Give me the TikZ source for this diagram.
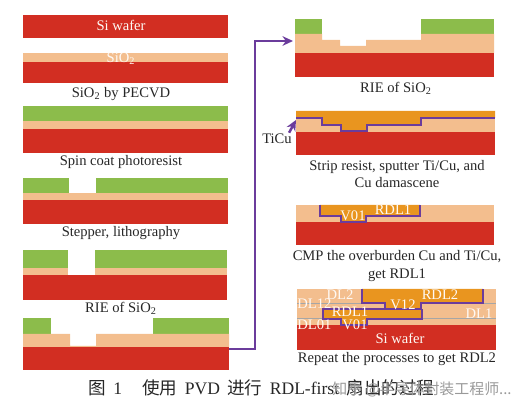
\documentclass[tikz,border=0pt]{standalone}
\usepackage{fontspec}
\setmainfont{Liberation Serif}
\newfontfamily\cjk{Noto Sans CJK SC}
\usetikzlibrary{arrows.meta,positioning}
\definecolor{wafer}{HTML}{D22E22}
\definecolor{oxide}{HTML}{F3BE8E}
\definecolor{resist}{HTML}{8CBC4B}
\definecolor{copper}{HTML}{E9951F}
\definecolor{liner}{HTML}{6B3C9C}

\begin{document}
\begin{tikzpicture}[x=0.02cm,y=-0.02cm]

		\tikzset{font=\fontsize{8.3}{10}\selectfont}
		\tikzset{line/.style={draw=liner,line width=1.4pt}}
		\tikzset{arrow/.style={line,-{Stealth[length=6pt,width=5.5pt]}}}
		\tikzset{caption/.style={text=black!85,inner sep=0pt}}
		\tikzset{tag/.style={text=white!90!oxide,inner sep=0pt}}

		\useasboundingbox (0,0) rectangle (525,412);

		% Left column.
		\fill[wafer] (23,15) rectangle (228,38);
		\node[tag] (si1) at (121,25) {Si wafer};

		\fill[oxide] (23,53) rectangle (228,62);
		\fill[wafer] (23,62) rectangle (228,83);
		\node[tag] (sio1) at (121,59) {SiO\textsubscript{2}};
		\node[caption] (cap2) at (121,94) {SiO\textsubscript{2} by PECVD};

		\fill[resist] (23,106) rectangle (228,121);
		\fill[oxide] (23,121) rectangle (228,129);
		\fill[wafer] (23,129) rectangle (228,153);
		\node[caption] (cap3) at (121,162) {Spin coat photoresist};

		\fill[resist] (23,178) rectangle (69,193);
		\fill[resist] (96,178) rectangle (228,193);
		\fill[oxide] (23,193) rectangle (228,200);
		\fill[wafer] (23,200) rectangle (228,224);
		\node[caption] (cap4) at (121,233) {Stepper, lithography};

		\fill[resist] (23,250) rectangle (68,268);
		\fill[resist] (95,250) rectangle (227,268);
		\fill[oxide] (23,268) rectangle (68,275);
		\fill[oxide] (95,268) rectangle (227,275);
		\fill[wafer] (23,275) rectangle (227,300);
		\node[caption] (cap5) at (121,308) {RIE of SiO\textsubscript{2}};

		\fill[resist] (23,318) rectangle (51,334);
		\fill[resist] (153,318) rectangle (229,334);
		\fill[oxide] (23,334) -- (70,334) -- (70,346) -- (96,346) -- (96,334) -- (229,334) -- (229,347) -- (23,347) -- cycle;
		\fill[wafer] (23,347) rectangle (229,370);

		% Right column.
		\fill[resist] (295,19) rectangle (322,34);
		\fill[resist] (421,19) rectangle (494,34);
		\fill[oxide] (295,34) -- (322,34) -- (322,40) -- (340,40) -- (340,46) -- (366,46) -- (366,40) -- (421,40) -- (421,34) -- (494,34) -- (494,53) -- (295,53) -- cycle;
		\fill[wafer] (295,53) rectangle (494,77);
		\node[caption] (cap7) at (396,88) {RIE of SiO\textsubscript{2}};

		\fill[oxide] (296,118) rectangle (495,132);
		\fill[copper] (296,111) -- (495,111) -- (495,118) -- (421,118) -- (421,125) -- (367,125) -- (367,131) -- (341,131) -- (341,125) -- (322,125) -- (322,118) -- (296,118) -- cycle;
		\fill[wafer] (296,132) rectangle (495,155);
		\draw[line] (296,118) -- (322,118) -- (322,125) -- (341,125) -- (341,131) -- (367,131) -- (367,125) -- (421,125) -- (421,118) -- (495,118);
		\node[caption] (ticu) at (277,139) {TiCu};
		\coordinate (ticuend) at (296,120);
		\draw[arrow] (ticu.north east) ++(-3,-1) -- (ticuend);
		\node[caption,align=center] (cap8) at (397,174) {Strip resist, sputter Ti/Cu, and\\Cu damascene};

		\fill[oxide] (296,205) rectangle (494,222);
		\fill[copper] (320,205) -- (320,216) -- (341,216) -- (341,222) -- (366,222) -- (366,216) -- (420,216) -- (420,205) -- cycle;
		\fill[wafer] (296,222) rectangle (494,245);
		\draw[line] (320,205) -- (320,216) -- (341,216) -- (341,222) -- (366,222) -- (366,216) -- (420,216) -- (420,205);
		\node[tag] (v01a) at (353,216) {V01};
		\node[tag] (rdl1a) at (393,210) {RDL1};
		\node[caption,align=center] (cap9) at (397,266) {CMP the overburden Cu and Ti/Cu,\\get RDL1};

		\fill[oxide] (297,289) rectangle (496,325);
		\draw[black!35,line width=0.5pt] (297,303) -- (496,303);
		\draw[black!35,line width=0.5pt] (297,318) -- (496,318);
		\fill[copper] (362,289) -- (362,303) -- (385,303) -- (385,309) -- (323,309) -- (323,319) -- (341,319) -- (341,325) -- (367,325) -- (367,319) -- (422,319) -- (422,309) -- (421,309) -- (421,303) -- (483,303) -- (483,289) -- cycle;
		\fill[wafer] (297,325) rectangle (496,350);
		\draw[line] (362,289) -- (362,303) -- (385,303) -- (385,309) -- (421,309) -- (421,303) -- (483,303) -- (483,289);
		\draw[line] (385,309) -- (323,309) -- (323,319) -- (341,319) -- (341,325) -- (367,325) -- (367,319) -- (422,319) -- (422,309);
		\node[tag] (dl2) at (340,295) {DL2};
		\node[tag,anchor=west] (dl12) at (297,304) {DL12};
		\node[tag] (rdl1b) at (350,312) {RDL1};
		\node[tag] (v12) at (403,305) {V12};
		\node[tag] (rdl2) at (440,295) {RDL2};
		\node[tag] (dl1) at (479,314) {DL1};
		\node[tag,anchor=west] (dl01) at (297,325) {DL01};
		\node[tag] (v01b) at (355,325) {V01};
		\node[tag] (si2) at (400,338) {Si wafer};
		\node[caption] (cap10) at (397,359) {Repeat the processes to get RDL2};

		% Connector between the columns.
		\coordinate (from) at (229,349);
		\coordinate (turn) at (255,41);
		\coordinate (into) at (293,41);
		\draw[arrow] (from) -| (turn) -- (into);

		% Figure title and the mark over it.
		\node[caption,anchor=west,font=\fontsize{10}{12}\selectfont] (title) at (88,388) {\spaceskip=0.42em {\cjk 图} 1\hspace{1.15em}{\cjk 使用} PVD {\cjk 进行} RDL-first {\cjk 扇出的过程}};
		\node[caption,anchor=east,text=black!40,font=\fontsize{8.5}{10}\selectfont\cjk] (mark) at (512,390) {知乎 @半导体封装工程师...};

\end{tikzpicture}
\end{document}
